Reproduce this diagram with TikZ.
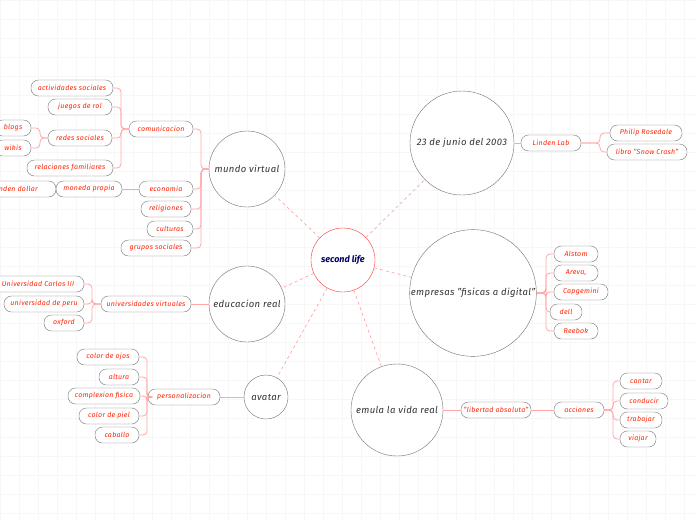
\documentclass[tikz,border=0pt]{standalone}
\usepackage{fontspec}
\setmainfont{Fira Sans}
\begin{document}
\begin{tikzpicture}[x=1pt,y=-1pt,
 pill/.style={draw=black!55,fill=white,rounded corners=7.5pt,minimum height=16,inner sep=1pt,text=red!75!orange,font=\fontsize{7}{8}\selectfont\itshape\addfontfeature{LetterSpace=4}},
 big/.style={circle,draw=black!55,fill=white,inner sep=1pt,font=\fontsize{9.5}{11}\selectfont\itshape\addfontfeature{LetterSpace=4},text=black!80},
 br/.style={draw=red!35,line width=0.8pt,rounded corners=4pt},
 dl/.style={draw=red!35,dashed,line width=0.7pt}]
\useasboundingbox (0,0) rectangle (696,520);
\fill[white] (0,0) rectangle (696,520);
\foreach \i in {0,19,...,696} \draw[black!3] (\i,0) -- (\i,520);
\foreach \i in {0,19,...,520} \draw[black!3] (0,\i) -- (696,\i);
% central and big circles
\node[big,minimum size=76] (mv) at (247,169) {mundo virtual};
\node[big,minimum size=76] (er) at (247,304) {educacion real};
\node[big,minimum size=44] (av) at (266,397) {avatar};
\node[big,minimum size=104] (jn) at (462,143) {23 de junio del 2003};
\node[big,minimum size=126] (em) at (473,293) {empresas "fisicas a digital"};
\node[big,minimum size=92] (ev) at (397,410) {emula la vida real};
\node[circle,draw=red!80,fill=white,minimum size=64,font=\fontsize{9}{10}\selectfont\bfseries\itshape,text=blue!40!black] (sl) at (343,260) {second life};
\foreach \t in {mv,er,av,jn,em,ev} \draw[dl] (sl) -- (\t);
% pills
\newcommand\pl[5]{\node[pill,minimum width=#4] (#1) at (#2,#3) {#5};}
\pl{as}{72}{88}{82}{actividades sociales}
\pl{jr}{80}{107}{64}{juegos de rol}
\pl{bl}{13}{128}{36}{blogs}
\pl{rs}{80}{138}{64}{redes sociales}
\pl{wk}{13}{148}{36}{wikis}
\pl{rf}{70}{168}{86}{relaciones familiares}
\pl{co}{161}{129}{64}{comunicacion}
\pl{ld}{16}{189}{80}{linden dollar}
\pl{mp}{89}{189}{66}{moneda propia}
\pl{ec}{166}{189}{54}{economia}
\pl{re}{166}{209}{50}{religiones}
\pl{cu}{170}{229}{46}{culturas}
\pl{gs}{156}{248}{70}{grupos sociales}
\pl{uc}{38}{284}{92}{Universidad Carlos III}
\pl{up}{44}{304}{80}{universidad de peru}
\pl{ox}{64}{323}{40}{oxford}
\pl{uv}{146}{304}{90}{universidades virtuales}
\pl{oj}{108}{357}{62}{color de ojos}
\pl{al}{119}{377}{40}{altura}
\pl{cf}{104}{396}{72}{complexion fisica}
\pl{cp}{109}{416}{60}{color de piel}
\pl{ca}{117}{435}{44}{caballo}
\pl{pe}{184}{397}{72}{personalizacion}
\pl{ll}{551}{143}{60}{Linden Lab}
\pl{pr}{646}{133}{72}{Philip Rosedale}
\pl{sc}{647}{152}{80}{libro "Snow Crash"}
\pl{a1}{576}{254}{44}{Alstom}
\pl{a2}{576}{273}{44}{Areva,}
\pl{a3}{581}{292}{54}{Capgemini}
\pl{a4}{566}{312}{32}{dell}
\pl{a5}{576}{331}{44}{Reebok}
\pl{lb}{496}{410}{70}{"libertad absoluta"}
\pl{ac}{579}{410}{50}{acciones}
\pl{c1}{641}{381}{42}{cantar}
\pl{c2}{644}{401}{48}{conducir}
\pl{c3}{641}{420}{42}{trabajar}
\pl{c4}{638}{439}{36}{viajar}
% left trees
\coordinate (b1) at (201,0);
\foreach \c in {co,ec,re,cu,gs} \draw[br] (mv.west) -- (mv.west -| b1) |- (\c.east);
\coordinate (b2) at (121,0);
\foreach \c in {as,jr,rs,rf} \draw[br] (co.west) -- (co.west -| b2) |- (\c.east);
\coordinate (b3) at (40,0);
\foreach \c in {bl,wk} \draw[br] (rs.west) -- (rs.west -| b3) |- (\c.east);
\draw[br] (ec.west) -- (mp.east); \draw[br] (mp.west) -- (ld.east);
\draw[br] (er.west) -- (uv.east);
\coordinate (b4) at (92,0);
\foreach \c in {uc,up,ox} \draw[br] (uv.west) -- (uv.west -| b4) |- (\c.east);
\draw[br] (av.west) -- (pe.east);
\coordinate (b5) at (147,0);
\foreach \c in {oj,al,cf,cp,ca} \draw[br] (pe.west) -- (pe.west -| b5) |- (\c.east);
% right trees
\draw[br] (jn.east) -- (ll.west);
\coordinate (b6) at (600,0);
\foreach \c in {pr,sc} \draw[br] (ll.east) -- (ll.east -| b6) |- (\c.west);
\coordinate (b7) at (546,0);
\foreach \c in {a1,a2,a3,a4,a5} \draw[br] (em.east) -- (em.east -| b7) |- (\c.west);
\draw[br] (ev.east) -- (lb.west); \draw[br] (lb.east) -- (ac.west);
\coordinate (b8) at (613,0);
\foreach \c in {c1,c2,c3,c4} \draw[br] (ac.east) -- (ac.east -| b8) |- (\c.west);
\end{tikzpicture}
\end{document}
